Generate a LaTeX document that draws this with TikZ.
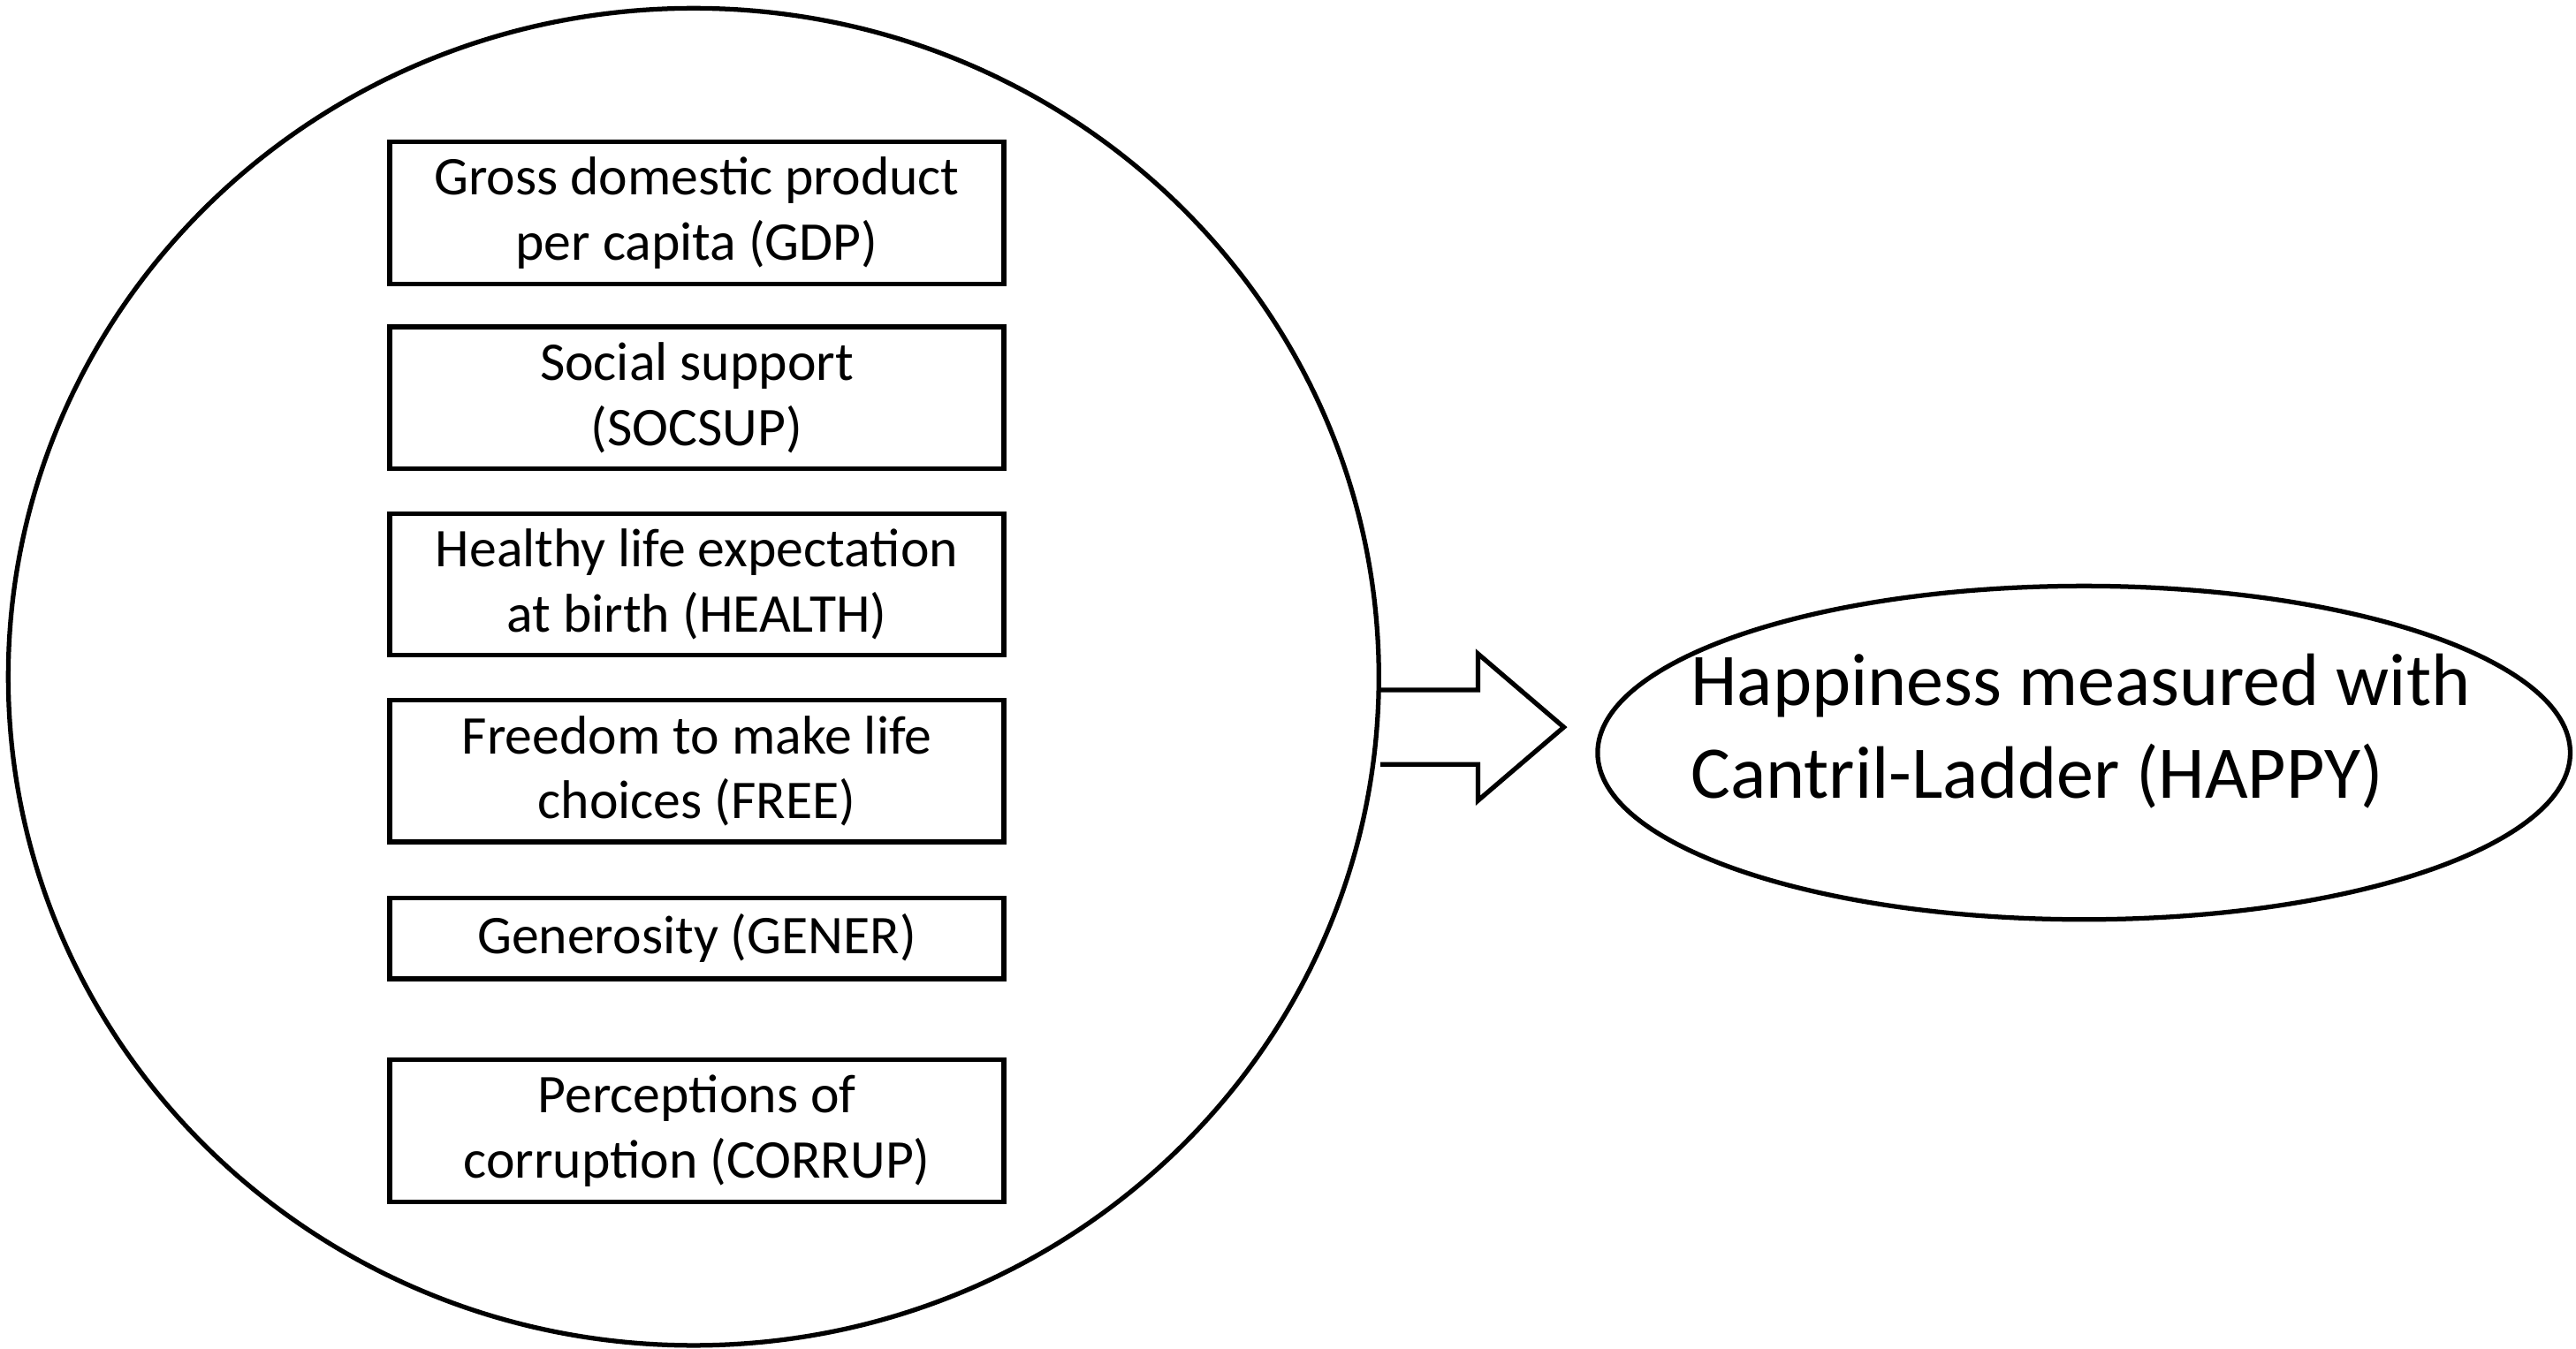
\documentclass[tikz,border=0pt]{standalone}
\usepackage{fontspec}
\setmainfont{Carlito}
\usetikzlibrary{shapes.geometric}
\begin{document}
\begin{tikzpicture}[x=0.05cm,y=-0.05cm,line width=4pt,
 box/.style={draw,minimum width=372*0.05cm,align=center,font=\fontsize{47}{56}\selectfont,inner sep=0pt}]
\useasboundingbox (0,0) rectangle (1560,817);
\node[draw,ellipse,minimum width=830*0.05cm,minimum height=810*0.05cm,inner sep=0pt] (C) at (420,410) {};
\node[box,minimum height=86*0.05cm] (b1) at (422,129) {Gross domestic product\\per capita (GDP)};
\node[box,minimum height=86*0.05cm] (b2) at (422,241) {Social support\\(SOCSUP)};
\node[box,minimum height=86*0.05cm] (b3) at (422,354) {Healthy life expectation\\at birth (HEALTH)};
\node[box,minimum height=86*0.05cm] (b4) at (422,467) {Freedom to make life\\choices (FREE)};
\node[box,minimum height=49*0.05cm] (b5) at (422,568.5) {Generosity (GENER)};
\node[box,minimum height=86*0.05cm] (b6) at (422,685) {Perceptions of\\corruption (CORRUP)};
\node[draw,ellipse,minimum width=589*0.05cm,minimum height=202*0.05cm,inner sep=-40pt] (H) at (1262,456) {};
\node[align=left,font=\fontsize{64}{80}\selectfont,inner sep=0pt] (Ht) at (1260,443) {Happiness measured with\\Cantril-Ladder (HAPPY)};
\draw[line join=miter] (836,418) -- (895,418) -- (895,396) -- (947,440.5) -- (895,485) -- (895,463) -- (836,463);
\end{tikzpicture}
\end{document}
